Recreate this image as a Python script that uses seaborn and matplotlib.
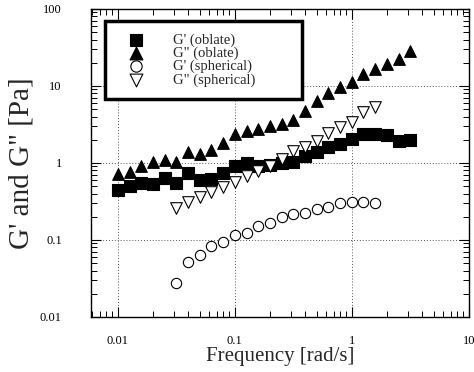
import numpy as np
import pandas as pd
import matplotlib
matplotlib.use("Agg")
import matplotlib.pyplot as plt
import seaborn as sns
from matplotlib.ticker import LogLocator, FixedLocator, FixedFormatter, NullFormatter

# frequency grid: 10 points per decade starting at 0.01 rad/s
freq_oblate = [10 ** (-2 + 0.1 * k) for k in range(26)]
freq_spherical = [10 ** (-2 + 0.1 * k) for k in range(5, 23)]

g1_oblate = [0.45, 0.50, 0.55, 0.53, 0.64, 0.55, 0.74, 0.60, 0.62, 0.74,
             0.91, 1.00, 0.91, 0.94, 1.00, 1.03, 1.23, 1.39, 1.61, 1.77,
             2.05, 2.38, 2.38, 2.31, 1.93, 1.99]
g2_oblate = [0.72, 0.76, 0.91, 1.03, 1.09, 1.03, 1.39, 1.31, 1.48, 1.82,
             2.38, 2.60, 2.77, 3.02, 3.21, 3.62, 4.73, 6.4, 8.1, 9.7,
             11.3, 14.3, 16.6, 19.3, 22.4, 28.5]
g1_spherical = [0.0277, 0.0518, 0.0638, 0.0836, 0.094, 0.116, 0.123, 0.152,
                0.166, 0.199, 0.218, 0.224, 0.253, 0.268, 0.30, 0.31, 0.31, 0.30]
g2_spherical = [0.26, 0.31, 0.36, 0.42, 0.49, 0.57, 0.68, 0.79, 0.91, 1.13,
                1.43, 1.61, 1.93, 2.45, 2.94, 3.41, 4.6, 5.3]

labels = ["G' (oblate)", 'G" (oblate)', "G' (spherical)", 'G" (spherical)']

sns.set_style("ticks")
plt.rcParams["font.family"] = ["Liberation Serif", "DejaVu Serif"]

fig = plt.figure(figsize=(4.74, 3.72), dpi=100)
ax = fig.add_axes([0.192, 0.148, 0.797, 0.828])

series = [
    (freq_oblate, g1_oblate, "s", "black", 70),
    (freq_oblate, g2_oblate, "^", "black", 70),
    (freq_spherical, g1_spherical, "o", "white", 55),
    (freq_spherical, g2_spherical, "v", "white", 70),
]
for (x, y, m, fc, s), lab in zip(series, labels):
    df = pd.DataFrame({"freq": x, "G": y})
    sns.scatterplot(data=df, x="freq", y="G", marker=m, s=s, color=fc,
                    edgecolor="black", linewidth=0.8, ax=ax, label=lab,
                    zorder=3)

ax.set_xscale("log")
ax.set_yscale("log")
ax.set_xlim(0.0059, 10)
ax.set_ylim(0.01, 100)

ax.xaxis.set_major_locator(FixedLocator([0.01, 0.1, 1, 10]))
ax.xaxis.set_major_formatter(FixedFormatter(["0.01", "0.1", "1", "10"]))
ax.yaxis.set_major_locator(FixedLocator([0.01, 0.1, 1, 10, 100]))
ax.yaxis.set_major_formatter(FixedFormatter(["0.01", "0.1", "1", "10", "100"]))
ax.xaxis.set_minor_locator(LogLocator(base=10, subs=np.arange(2, 10)))
ax.yaxis.set_minor_locator(LogLocator(base=10, subs=np.arange(2, 10)))
ax.xaxis.set_minor_formatter(NullFormatter())
ax.yaxis.set_minor_formatter(NullFormatter())

ax.tick_params(which="both", direction="in", top=True, right=True,
               colors="black", labelsize=9)
ax.tick_params(which="major", length=7, width=0.8)
ax.tick_params(which="minor", length=4, width=0.7)
ax.tick_params(axis="x", which="major", pad=13)
ax.tick_params(axis="y", which="major", pad=21)

ax.grid(True, which="major", linestyle=(0, (1, 2)), color="#555555",
        linewidth=0.7)
for sp in ax.spines.values():
    sp.set_linewidth(1.0)
    sp.set_color("black")

ax.set_xlabel("Frequency [rad/s]", fontsize=15, labelpad=0)
ax.set_ylabel('G\' and G" [Pa]', fontsize=21, labelpad=4)

# legend box stretched to the width used in the original figure
leg = ax.legend(loc="upper left", bbox_to_anchor=(0.037, 0.61, 0.521, 0.352),
                mode="expand", fontsize=10.5, frameon=True, fancybox=False,
                borderpad=0.85, handletextpad=1.2, labelspacing=0.0,
                borderaxespad=0, handlelength=2.6, markerscale=1.1)
leg.get_frame().set_edgecolor("black")
leg.get_frame().set_linewidth(2.5)
leg.get_frame().set_alpha(1)
leg.set_zorder(5)

fig.savefig("out.png", dpi=100)
